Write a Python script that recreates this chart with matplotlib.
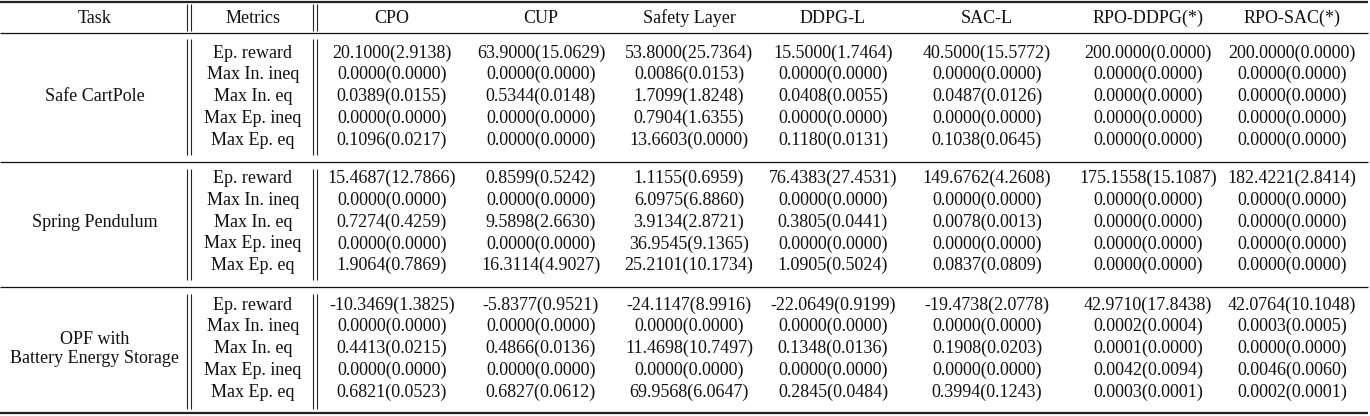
import matplotlib
matplotlib.use("Agg")
import matplotlib.pyplot as plt

# ---------------- data ----------------
tasks = ["Safe CartPole", "Spring Pendulum", "OPF with\nBattery Energy Storage"]
metrics = ["Ep. reward", "Max In. ineq", "Max In. eq", "Max Ep. ineq", "Max Ep. eq"]
methods = ["CPO", "CUP", "Safety Layer", "DDPG-L", "SAC-L", "RPO-DDPG(*)", "RPO-SAC(*)"]

cartpole_mean = [
    [20.1000, 63.9000, 53.8000, 15.5000, 40.5000, 200.0000, 200.0000],
    [0.0000, 0.0000, 0.0086, 0.0000, 0.0000, 0.0000, 0.0000],
    [0.0389, 0.5344, 1.7099, 0.0408, 0.0487, 0.0000, 0.0000],
    [0.0000, 0.0000, 0.7904, 0.0000, 0.0000, 0.0000, 0.0000],
    [0.1096, 0.0000, 13.6603, 0.1180, 0.1038, 0.0000, 0.0000],
]
cartpole_std = [
    [2.9138, 15.0629, 25.7364, 1.7464, 15.5772, 0.0000, 0.0000],
    [0.0000, 0.0000, 0.0153, 0.0000, 0.0000, 0.0000, 0.0000],
    [0.0155, 0.0148, 1.8248, 0.0055, 0.0126, 0.0000, 0.0000],
    [0.0000, 0.0000, 1.6355, 0.0000, 0.0000, 0.0000, 0.0000],
    [0.0217, 0.0000, 0.0000, 0.0131, 0.0645, 0.0000, 0.0000],
]
pendulum_mean = [
    [15.4687, 0.8599, 1.1155, 76.4383, 149.6762, 175.1558, 182.4221],
    [0.0000, 0.0000, 6.0975, 0.0000, 0.0000, 0.0000, 0.0000],
    [0.7274, 9.5898, 3.9134, 0.3805, 0.0078, 0.0000, 0.0000],
    [0.0000, 0.0000, 36.9545, 0.0000, 0.0000, 0.0000, 0.0000],
    [1.9064, 16.3114, 25.2101, 1.0905, 0.0837, 0.0000, 0.0000],
]
pendulum_std = [
    [12.7866, 0.5242, 0.6959, 27.4531, 4.2608, 15.1087, 2.8414],
    [0.0000, 0.0000, 6.8860, 0.0000, 0.0000, 0.0000, 0.0000],
    [0.4259, 2.6630, 2.8721, 0.0441, 0.0013, 0.0000, 0.0000],
    [0.0000, 0.0000, 9.1365, 0.0000, 0.0000, 0.0000, 0.0000],
    [0.7869, 4.9027, 10.1734, 0.5024, 0.0809, 0.0000, 0.0000],
]
opf_mean = [
    [-10.3469, -5.8377, -24.1147, -22.0649, -19.4738, 42.9710, 42.0764],
    [0.0000, 0.0000, 0.0000, 0.0000, 0.0000, 0.0002, 0.0003],
    [0.4413, 0.4866, 11.4698, 0.1348, 0.1908, 0.0001, 0.0000],
    [0.0000, 0.0000, 0.0000, 0.0000, 0.0000, 0.0042, 0.0046],
    [0.6821, 0.6827, 69.9568, 0.2845, 0.3994, 0.0003, 0.0002],
]
opf_std = [
    [1.3825, 0.9521, 8.9916, 0.9199, 2.0778, 17.8438, 10.1048],
    [0.0000, 0.0000, 0.0000, 0.0000, 0.0000, 0.0004, 0.0005],
    [0.0215, 0.0136, 10.7497, 0.0136, 0.0203, 0.0000, 0.0000],
    [0.0000, 0.0000, 0.0000, 0.0000, 0.0000, 0.0094, 0.0060],
    [0.0523, 0.0612, 6.0647, 0.0484, 0.1243, 0.0001, 0.0001],
]
means = [cartpole_mean, pendulum_mean, opf_mean]
stds = [cartpole_std, pendulum_std, opf_std]

# ---------------- layout (pixel coordinates) ----------------
W, H = 1370, 416
FONT = "Liberation Serif"
FS = 13.0
TXT = "#111111"

col_x = [95, 253, 392, 541, 689, 833, 987, 1148, 1292]
vline_pairs = [(187, 191), (313, 317)]
top_rule, header_rule, bottom_rule = 1.5, 33, 413
block_rules = [162, 287]
header_y = 18.5
block_first_row = [53, 178.5, 305]
row_step = 21.8
x0, x1 = 0, 1368

fig = plt.figure(figsize=(W / 100, H / 100), dpi=100)
ax = fig.add_axes([0, 0, 1, 1])
ax.set_xlim(0, W)
ax.set_ylim(H, 0)
ax.axis("off")

def txt(x, y, s):
    ax.text(x, y, s, ha="center", va="center", fontsize=FS, family=FONT,
            color=TXT, linespacing=1.15)

# header
headers = ["Task", "Metrics"] + methods
for cx, h in zip(col_x, headers):
    txt(cx, header_y, h)

# body
for b, task in enumerate(tasks):
    ys = [block_first_row[b] + i * row_step for i in range(len(metrics))]
    txt(col_x[0], (ys[0] + ys[-1]) / 2, task)
    for i, m in enumerate(metrics):
        txt(col_x[1], ys[i], m)
        for j in range(len(methods)):
            s = f"{means[b][i][j]:.4f}({stds[b][i][j]:.4f})"
            txt(col_x[2 + j], ys[i], s)

# horizontal rules
ax.plot([x0, x1], [top_rule, top_rule], color="#222222", lw=1.6, solid_capstyle="butt")
ax.plot([x0, x1], [bottom_rule, bottom_rule], color="#222222", lw=1.6, solid_capstyle="butt")
ax.plot([x0, x1], [header_rule, header_rule], color="#111111", lw=0.9, solid_capstyle="butt")
for r in block_rules:
    ax.plot([x0, x1], [r, r], color="#111111", lw=0.9, solid_capstyle="butt")

# vertical double rules (broken around horizontal rules)
segments = [(top_rule + 2, header_rule - 2),
            (header_rule + 6, block_rules[0] - 7),
            (block_rules[0] + 7, block_rules[1] - 7),
            (block_rules[1] + 7, bottom_rule - 4)]
for (a, bb) in segments:
    for pair in vline_pairs:
        for vx in pair:
            ax.plot([vx, vx], [a, bb], color="#222222", lw=0.8, solid_capstyle="butt")

fig.savefig("out.png", dpi=100, facecolor="white")
